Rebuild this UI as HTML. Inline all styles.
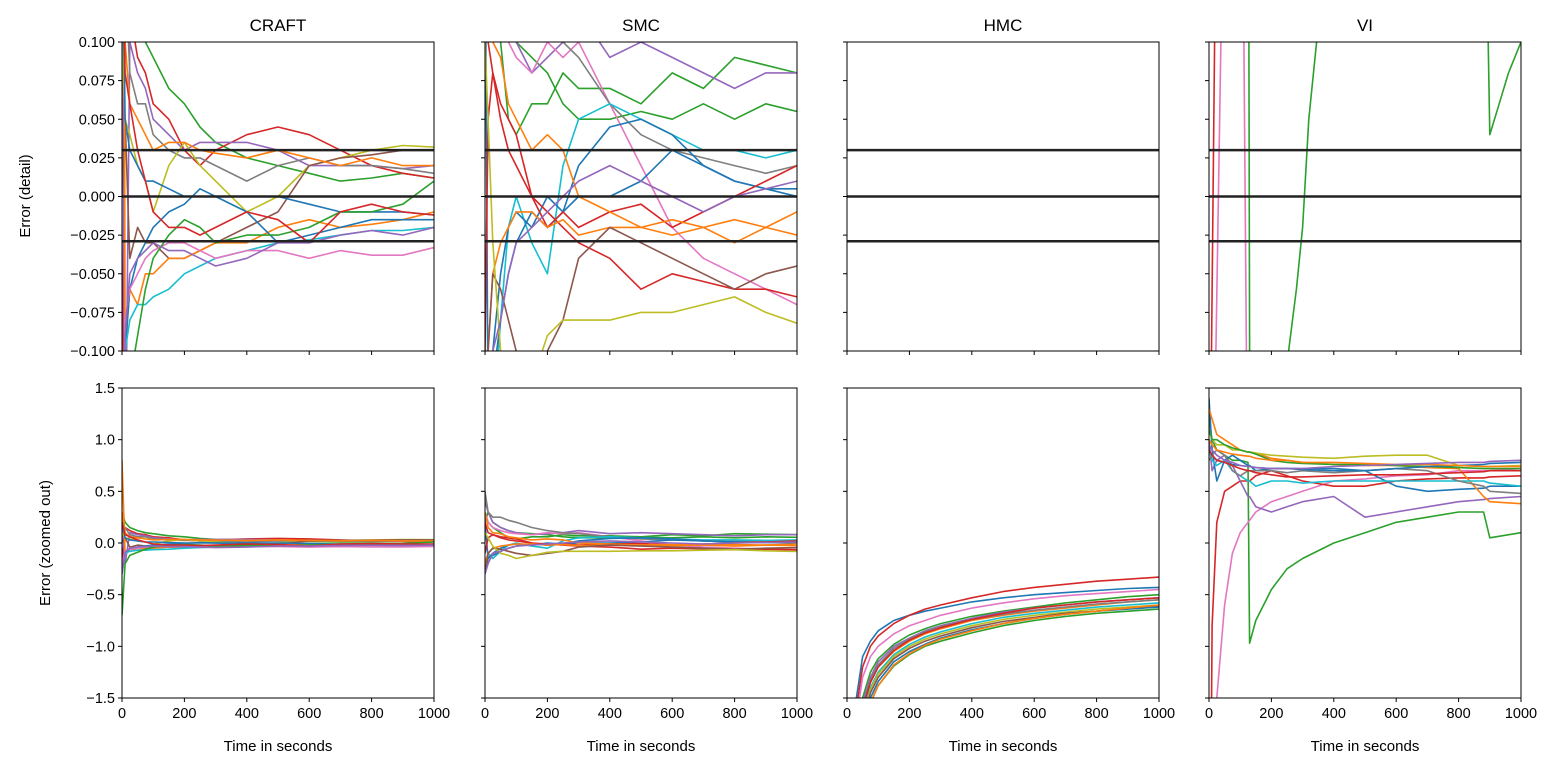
<!DOCTYPE html>
<html><head><meta charset="utf-8">
<style>
html,body{margin:0;background:#fff;overflow:hidden;width:1561px;height:769px;}
svg{display:block;font-family:"Liberation Sans","DejaVu Sans",sans-serif;}
</style></head>
<body>
<svg id="chart" width="1561" height="769" xmlns="http://www.w3.org/2000/svg"></svg>
<script>
const colors=['#1f77b4','#ff7f0e','#2ca02c','#d62728','#9467bd','#8c564b','#e377c2','#7f7f7f','#bcbd22','#17becf'];
const panelTitles=['CRAFT','SMC','HMC','VI'];
const xTicks=[0,200,400,600,800,1000];
const topYTicks=[-0.100,-0.075,-0.050,-0.025,0.000,0.025,0.050,0.075,0.100];
const botYTicks=[-1.5,-1.0,-0.5,0.0,0.5,1.0,1.5];
const refLines=[0.03,0.0,-0.029];
const gridX=[0,10,25,50,75,100,150,200,250,300,400,500,600,700,800,900,1000];
// CRAFT series (colour index, values at gridX)
const craftColors=[2,3,4,7,8,5,1,1,0,0,9,6,2,3,4];
const craftSeries=[
[0.3,0.2,0.15,0.12,0.1,0.09,0.07,0.06,0.045,0.035,0.025,0.02,0.015,0.01,0.012,0.015,0.012],
[-0.2,0.15,0.12,0.09,0.08,0.06,0.05,0.03,0.02,0.03,0.04,0.045,0.04,0.03,0.02,0.015,0.012],
[0.2,-0.2,0.1,0.08,0.07,0.05,0.04,0.03,0.035,0.035,0.035,0.03,0.02,0.02,0.02,0.018,0.02],
[0.1,0.15,0.08,0.06,0.06,0.04,0.03,0.025,0.025,0.02,0.01,0.02,0.025,0.02,0.02,0.018,0.015],
[0.1,0.05,0.04,0.02,0.01,-0.01,0.02,0.035,0.02,0.01,-0.01,0.0,0.02,0.025,0.03,0.033,0.032],
[0.0,0.05,-0.04,-0.02,-0.03,-0.03,-0.04,-0.04,-0.035,-0.03,-0.02,-0.01,0.02,0.025,0.027,0.03,0.03],
[0.8,-0.1,-0.06,-0.07,-0.05,-0.05,-0.04,-0.04,-0.035,-0.03,-0.03,-0.02,-0.015,-0.02,-0.018,-0.015,-0.01],
[0.3,0.1,0.06,0.05,0.04,0.03,0.035,0.035,0.03,0.028,0.025,0.03,0.025,0.02,0.025,0.02,0.02],
[0.2,0.05,0.03,0.02,0.01,0.01,0.005,0.0,0.0,0.0,0.0,0.0,-0.005,-0.01,-0.01,-0.01,-0.012],
[-0.2,-0.1,-0.06,-0.04,-0.03,-0.02,-0.01,-0.005,0.005,0.0,-0.01,-0.03,-0.025,-0.02,-0.015,-0.015,-0.015],
[-0.3,-0.1,-0.08,-0.07,-0.07,-0.065,-0.06,-0.05,-0.045,-0.04,-0.035,-0.03,-0.028,-0.025,-0.022,-0.022,-0.02],
[-0.2,-0.08,-0.06,-0.05,-0.04,-0.035,-0.03,-0.03,-0.035,-0.04,-0.035,-0.035,-0.04,-0.035,-0.038,-0.038,-0.033],
[-0.7,-0.2,-0.12,-0.09,-0.06,-0.04,-0.025,-0.015,-0.02,-0.03,-0.025,-0.025,-0.02,-0.01,-0.01,-0.005,0.01],
[0.2,0.08,0.06,0.03,0.01,-0.01,-0.02,-0.02,-0.025,-0.02,-0.01,-0.015,-0.03,-0.01,-0.005,-0.01,-0.012],
[-0.3,-0.09,-0.05,-0.04,-0.035,-0.03,-0.035,-0.035,-0.04,-0.045,-0.04,-0.03,-0.03,-0.025,-0.022,-0.025,-0.02]];
// SMC series
const smcColors=[2,2,4,6,7,9,0,0,3,3,1,1,5,8,4];
const smcSeries=[
[0.3,0.2,0.15,0.1,0.05,0.04,0.06,0.06,0.08,0.07,0.07,0.06,0.08,0.07,0.09,0.085,0.08],
[0.2,0.3,0.2,0.15,0.12,0.1,0.09,0.08,0.06,0.05,0.05,0.055,0.05,0.06,0.05,0.06,0.055],
[0.4,0.3,0.2,0.15,0.12,0.1,0.08,0.09,0.1,0.12,0.09,0.1,0.09,0.08,0.07,0.08,0.08],
[0.3,0.2,0.15,0.12,0.1,0.09,0.08,0.1,0.09,0.1,0.06,0.02,-0.02,-0.04,-0.05,-0.06,-0.07],
[0.5,0.3,0.25,0.25,0.22,0.2,0.15,0.12,0.1,0.09,0.06,0.04,0.03,0.025,0.02,0.015,0.02],
[-0.2,-0.1,-0.15,-0.08,-0.02,0.0,-0.03,-0.05,0.02,0.05,0.06,0.05,0.04,0.03,0.03,0.025,0.03],
[0.2,-0.15,-0.1,-0.05,-0.02,-0.01,-0.02,0.0,-0.01,0.02,0.045,0.05,0.04,0.02,0.01,0.005,0.005],
[-0.3,-0.15,-0.12,-0.08,-0.05,-0.03,-0.01,-0.02,-0.01,0.0,0.0,0.01,0.03,0.02,0.01,0.005,0.0],
[-0.1,0.05,0.08,0.06,0.05,0.04,0.0,-0.02,-0.01,-0.02,-0.01,-0.005,-0.02,-0.01,0.0,0.01,0.02],
[0.2,0.1,0.08,0.05,0.03,0.02,0.0,-0.01,-0.02,-0.03,-0.04,-0.06,-0.05,-0.055,-0.06,-0.06,-0.065],
[0.3,0.15,0.1,0.09,0.06,0.05,0.03,0.04,0.03,0.0,-0.01,-0.02,-0.015,-0.02,-0.03,-0.02,-0.025],
[-0.2,-0.1,-0.05,-0.03,-0.02,-0.01,-0.01,-0.02,-0.015,-0.025,-0.02,-0.02,-0.025,-0.02,-0.015,-0.02,-0.01],
[-0.3,-0.1,-0.05,-0.06,-0.08,-0.1,-0.12,-0.1,-0.08,-0.04,-0.02,-0.03,-0.04,-0.05,-0.06,-0.05,-0.045],
[0.1,0.05,-0.03,-0.1,-0.12,-0.15,-0.12,-0.09,-0.08,-0.08,-0.08,-0.075,-0.075,-0.07,-0.065,-0.075,-0.082],
[-0.3,-0.2,-0.1,-0.08,-0.05,-0.03,-0.02,-0.01,0.0,0.01,0.02,0.01,0.0,-0.01,0.0,0.005,0.01]];
// HMC series
const hmcColors=[0,3,6,2,1,4,9,8,5,7,0,2,1,3];
const hmcSeries=[
[-5,-3,-1.6,-1.1,-0.95,-0.85,-0.75,-0.7,-0.66,-0.63,-0.57,-0.53,-0.5,-0.48,-0.46,-0.44,-0.43],
[-5,-3,-1.7,-1.2,-1.0,-0.9,-0.78,-0.7,-0.64,-0.6,-0.53,-0.47,-0.43,-0.4,-0.37,-0.35,-0.33],
[-5,-3,-1.8,-1.3,-1.1,-1.0,-0.88,-0.8,-0.75,-0.7,-0.63,-0.58,-0.54,-0.51,-0.49,-0.47,-0.45],
[-5,-3.5,-2.2,-1.5,-1.25,-1.12,-0.98,-0.89,-0.83,-0.78,-0.71,-0.66,-0.62,-0.58,-0.55,-0.52,-0.5],
[-5,-3.5,-2.3,-1.6,-1.35,-1.2,-1.05,-0.95,-0.88,-0.83,-0.75,-0.7,-0.66,-0.63,-0.6,-0.57,-0.55],
[-5,-3.5,-2.2,-1.55,-1.3,-1.15,-1.0,-0.92,-0.85,-0.8,-0.73,-0.67,-0.63,-0.6,-0.57,-0.55,-0.53],
[-5,-3.6,-2.4,-1.65,-1.4,-1.25,-1.08,-0.98,-0.91,-0.86,-0.78,-0.72,-0.68,-0.65,-0.62,-0.6,-0.58],
[-5,-3.6,-2.4,-1.7,-1.42,-1.27,-1.1,-1.0,-0.93,-0.88,-0.8,-0.74,-0.7,-0.67,-0.64,-0.62,-0.6],
[-5,-3.7,-2.5,-1.75,-1.45,-1.3,-1.12,-1.02,-0.95,-0.9,-0.82,-0.76,-0.72,-0.68,-0.66,-0.63,-0.61],
[-5,-3.5,-2.3,-1.6,-1.33,-1.18,-1.02,-0.93,-0.86,-0.81,-0.74,-0.69,-0.65,-0.62,-0.59,-0.57,-0.55],
[-5,-3.7,-2.5,-1.8,-1.5,-1.34,-1.15,-1.05,-0.98,-0.92,-0.84,-0.78,-0.73,-0.69,-0.66,-0.64,-0.62],
[-5,-3.8,-2.6,-1.85,-1.55,-1.38,-1.19,-1.08,-1.0,-0.95,-0.87,-0.8,-0.75,-0.71,-0.68,-0.66,-0.64],
[-5,-3.8,-2.6,-1.85,-1.55,-1.38,-1.18,-1.07,-0.99,-0.93,-0.85,-0.78,-0.73,-0.69,-0.66,-0.63,-0.6],
[-5,-3.6,-2.3,-1.6,-1.35,-1.2,-1.04,-0.94,-0.87,-0.82,-0.74,-0.68,-0.63,-0.6,-0.57,-0.55,-0.53]];
// VI series (own x grid)
const viX=[0,10,25,50,75,100,125,130,150,200,250,300,400,500,600,700,800,880,900,1000];
const viColors=[2,6,3,4,0,1,8,9,7,2,0,1,4,3];
const viSeries=[
[1.2,1.0,0.9,0.85,0.8,0.8,0.78,-0.97,-0.75,-0.45,-0.25,-0.15,0.0,0.1,0.2,0.25,0.3,0.3,0.05,0.1],
[-5,-5,-1.5,-0.6,-0.1,0.1,0.2,0.22,0.3,0.4,0.45,0.5,0.6,0.62,0.65,0.66,0.7,0.7,0.7,0.72],
[-5,-0.8,0.2,0.5,0.55,0.6,0.6,0.6,0.65,0.7,0.65,0.6,0.55,0.55,0.6,0.62,0.63,0.63,0.64,0.65],
[1.0,0.7,0.8,0.85,0.75,0.6,0.45,0.45,0.35,0.3,0.35,0.4,0.45,0.25,0.3,0.35,0.4,0.42,0.43,0.45],
[1.4,0.9,0.6,0.8,0.85,0.8,0.75,0.75,0.7,0.72,0.72,0.72,0.72,0.7,0.55,0.5,0.52,0.53,0.55,0.55],
[1.3,1.2,1.05,1.0,0.95,0.9,0.88,0.88,0.87,0.82,0.8,0.78,0.76,0.75,0.75,0.73,0.72,0.45,0.4,0.38],
[1.1,1.0,0.95,0.95,0.9,0.9,0.88,0.88,0.87,0.85,0.84,0.83,0.82,0.84,0.85,0.85,0.75,0.74,0.74,0.75],
[0.9,0.8,0.75,0.8,0.7,0.65,0.6,0.6,0.55,0.6,0.6,0.58,0.6,0.6,0.6,0.6,0.6,0.6,0.58,0.55],
[0.8,0.85,0.9,0.85,0.7,0.65,0.7,0.7,0.7,0.7,0.68,0.7,0.68,0.7,0.72,0.7,0.6,0.55,0.5,0.48],
[1.1,1.0,1.0,0.95,0.92,0.9,0.88,0.88,0.86,0.8,0.78,0.77,0.76,0.76,0.75,0.74,0.73,0.72,0.72,0.72],
[0.9,0.85,0.8,0.78,0.76,0.75,0.74,0.74,0.73,0.72,0.72,0.71,0.7,0.7,0.72,0.74,0.75,0.76,0.77,0.78],
[1.0,0.95,0.9,0.88,0.86,0.85,0.84,0.84,0.82,0.8,0.8,0.78,0.78,0.77,0.76,0.76,0.75,0.74,0.74,0.74],
[0.95,0.9,0.85,0.8,0.78,0.75,0.74,0.74,0.73,0.72,0.72,0.72,0.74,0.75,0.76,0.77,0.78,0.78,0.79,0.8],
[0.9,0.85,0.8,0.78,0.75,0.72,0.7,0.7,0.68,0.66,0.64,0.64,0.65,0.66,0.66,0.67,0.68,0.69,0.7,0.7]];
// VI detail (top row) segments: x and y pairs
const viTopColors=[3,6,6,2,2,2];
const viTopX=[[8,18],[22,38],[112,120],[128,130],[255,280,300,320,345],[895,900,930,960,1000]];
const viTopY=[[-0.1,0.1],[-0.1,0.1],[0.1,-0.1],[0.1,-0.1],[-0.1,-0.06,-0.02,0.05,0.1],[0.1,0.04,0.06,0.08,0.1]];

const NS='http://www.w3.org/2000/svg';
const svg=document.getElementById('chart');
function el(tag,attrs,parent){const e=document.createElementNS(NS,tag);for(const k in attrs)e.setAttribute(k,attrs[k]);(parent||svg).appendChild(e);return e;}
const colX=[122,485,847,1209],PW=312;
const rows=[{y0:42,y1:351,min:-0.1,max:0.1,ticks:topYTicks,fmt:v=>v.toFixed(3)},{y0:388,y1:698,min:-1.5,max:1.5,ticks:botYTicks,fmt:v=>v.toFixed(1)}];
const defs=el('defs',{});
function xs(c,v){return colX[c]+v/1000*PW;}
function ys(r,v){const R=rows[r];return R.y1-(v-R.min)/(R.max-R.min)*(R.y1-R.y0);}
function drawLine(g,c,r,X,Y,col,w){let d='';for(let i=0;i<X.length;i++){d+=(i?'L':'M')+xs(c,X[i]).toFixed(1)+','+ys(r,Y[i]).toFixed(1);}
 const p=el('path',{d:d,fill:'none',stroke:col,'stroke-width':w,'stroke-linejoin':'round'},g);return p;}
for(let r=0;r<2;r++)for(let c=0;c<4;c++){
 const cp=el('clipPath',{id:'cp'+r+c},defs);
 el('rect',{x:colX[c],y:rows[r].y0,width:PW,height:rows[r].y1-rows[r].y0},cp);
 const g=el('g',{'clip-path':'url(#cp'+r+c+')'});
 
 
 let sets;
 if(c===0)sets=craftSeries.map((s,i)=>[gridX,s,colors[craftColors[i]]]);
 else if(c===1)sets=smcSeries.map((s,i)=>[gridX,s,colors[smcColors[i]]]);
 else if(c===2)sets=r?hmcSeries.map((s,i)=>[gridX,s,colors[hmcColors[i]]]):[];
 else sets=r?viSeries.map((s,i)=>[viX,s,colors[viColors[i]]]):viTopX.map((x,i)=>[x,viTopY[i],colors[viTopColors[i]]]);
 sets.forEach((s,i)=>{const p=drawLine(g,c,r,s[0],s[1],s[2],1.6);
  
  });
 if(r===0){refLines.forEach(v=>{const l=el('line',{x1:colX[c],x2:colX[c]+PW,y1:ys(0,v),y2:ys(0,v),stroke:'#222','stroke-width':2.5},g);
  
  });}
 const fr=el('rect',{x:colX[c],y:rows[r].y0,width:PW,height:rows[r].y1-rows[r].y0,fill:'none',stroke:'#000','stroke-width':1});
 
 
 xTicks.forEach(t=>{const x=xs(c,t);el('line',{x1:x,x2:x,y1:rows[r].y1,y2:rows[r].y1+4,stroke:'#000'});
  if(r===1){const tx=el('text',{x:x,y:rows[r].y1+20,'text-anchor':'middle','font-size':14.5,fill:'#000'});tx.textContent=t;
   
   }});
 rows[r].ticks.forEach(t=>{const y=ys(r,t);el('line',{x1:colX[c]-4,x2:colX[c],y1:y,y2:y,stroke:'#000'});
  if(c===0){const ty=el('text',{x:colX[c]-7,y:y+5,'text-anchor':'end','font-size':14.5,fill:'#000'});ty.textContent=rows[r].fmt(t).replace('-','\u2212');
   
   }});
 if(r===0){const tt=el('text',{x:colX[c]+PW/2,y:31,'text-anchor':'middle','font-size':17,fill:'#000'});tt.textContent=panelTitles[c];
  
  }
 else{const xl=el('text',{x:colX[c]+PW/2,y:751,'text-anchor':'middle','font-size':15,fill:'#000'});xl.textContent='Time in seconds';
  
  }
}
const yl1=el('text',{x:0,y:0,transform:'translate(30,196) rotate(-90)','text-anchor':'middle','font-size':15,fill:'#000'});yl1.textContent='Error (detail)';


const yl2=el('text',{x:0,y:0,transform:'translate(50,543) rotate(-90)','text-anchor':'middle','font-size':15,fill:'#000'});yl2.textContent='Error (zoomed out)';


</script>
</body></html>
